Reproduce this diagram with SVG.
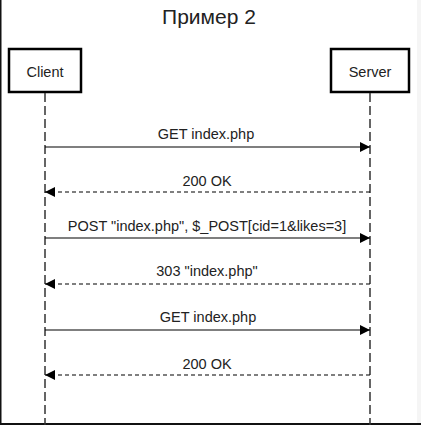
<svg xmlns="http://www.w3.org/2000/svg" width="421" height="425" viewBox="0 0 421 425">
<style>
text{font-family:"Liberation Sans",Arial,sans-serif;fill:#222}
.box{fill:#fff;stroke:#000;stroke-width:2.5}
.life{stroke:#333;stroke-width:1.5;stroke-dasharray:9 4;fill:none}
.msg{stroke:#000;stroke-width:1.2;fill:none}
.ret{stroke:#000;stroke-width:1.2;fill:none;stroke-dasharray:4 3}
.lbl{font-size:14.5px;text-anchor:middle}
</style>
<defs>
<marker id="ah" markerWidth="10" markerHeight="10" refX="10" refY="5" orient="auto" markerUnits="userSpaceOnUse">
<path d="M0,0 L10,5 L0,10 Z" fill="#000"/>
</marker>
</defs>
<rect x="0" y="0" width="421" height="425" fill="#fff"/>
<rect x="417" y="0" width="4" height="425" fill="#f5f5f5"/>
<line x1="0.75" y1="0" x2="0.75" y2="425" stroke="#111" stroke-width="1.5"/>
<line x1="0" y1="424" x2="421" y2="424" stroke="#111" stroke-width="2"/>
<text x="209" y="24" font-size="21" text-anchor="middle" fill="#111">Пример 2</text>
<g id="client">
<rect class="box" x="9" y="49" width="72" height="43"/>
<text class="lbl" x="45" y="77">Client</text>
<line class="life" x1="45" y1="93" x2="45" y2="425"/>
</g>
<g id="server">
<rect class="box" x="331" y="49" width="78" height="43"/>
<text class="lbl" x="370" y="77">Server</text>
<line class="life" x1="370" y1="93" x2="370" y2="425"/>
</g>
<g id="connectors">
<line class="msg" x1="45" y1="147" x2="370" y2="147" marker-end="url(#ah)"/>
<text class="lbl" x="206" y="139">GET index.php</text>
<line class="ret" x1="370" y1="192" x2="45" y2="192" marker-end="url(#ah)"/>
<text class="lbl" x="207" y="186">200 OK</text>
<line class="msg" x1="45" y1="238" x2="370" y2="238" marker-end="url(#ah)"/>
<text class="lbl" x="207" y="231">POST "index.php", $_POST[cid=1&amp;likes=3]</text>
<line class="ret" x1="370" y1="284" x2="45" y2="284" marker-end="url(#ah)"/>
<text class="lbl" x="207" y="276">303 "index.php"</text>
<line class="msg" x1="45" y1="330" x2="370" y2="330" marker-end="url(#ah)"/>
<text class="lbl" x="208" y="322">GET index.php</text>
<line class="ret" x1="370" y1="375" x2="45" y2="375" marker-end="url(#ah)"/>
<text class="lbl" x="207" y="369">200 OK</text>
</g>
</svg>
